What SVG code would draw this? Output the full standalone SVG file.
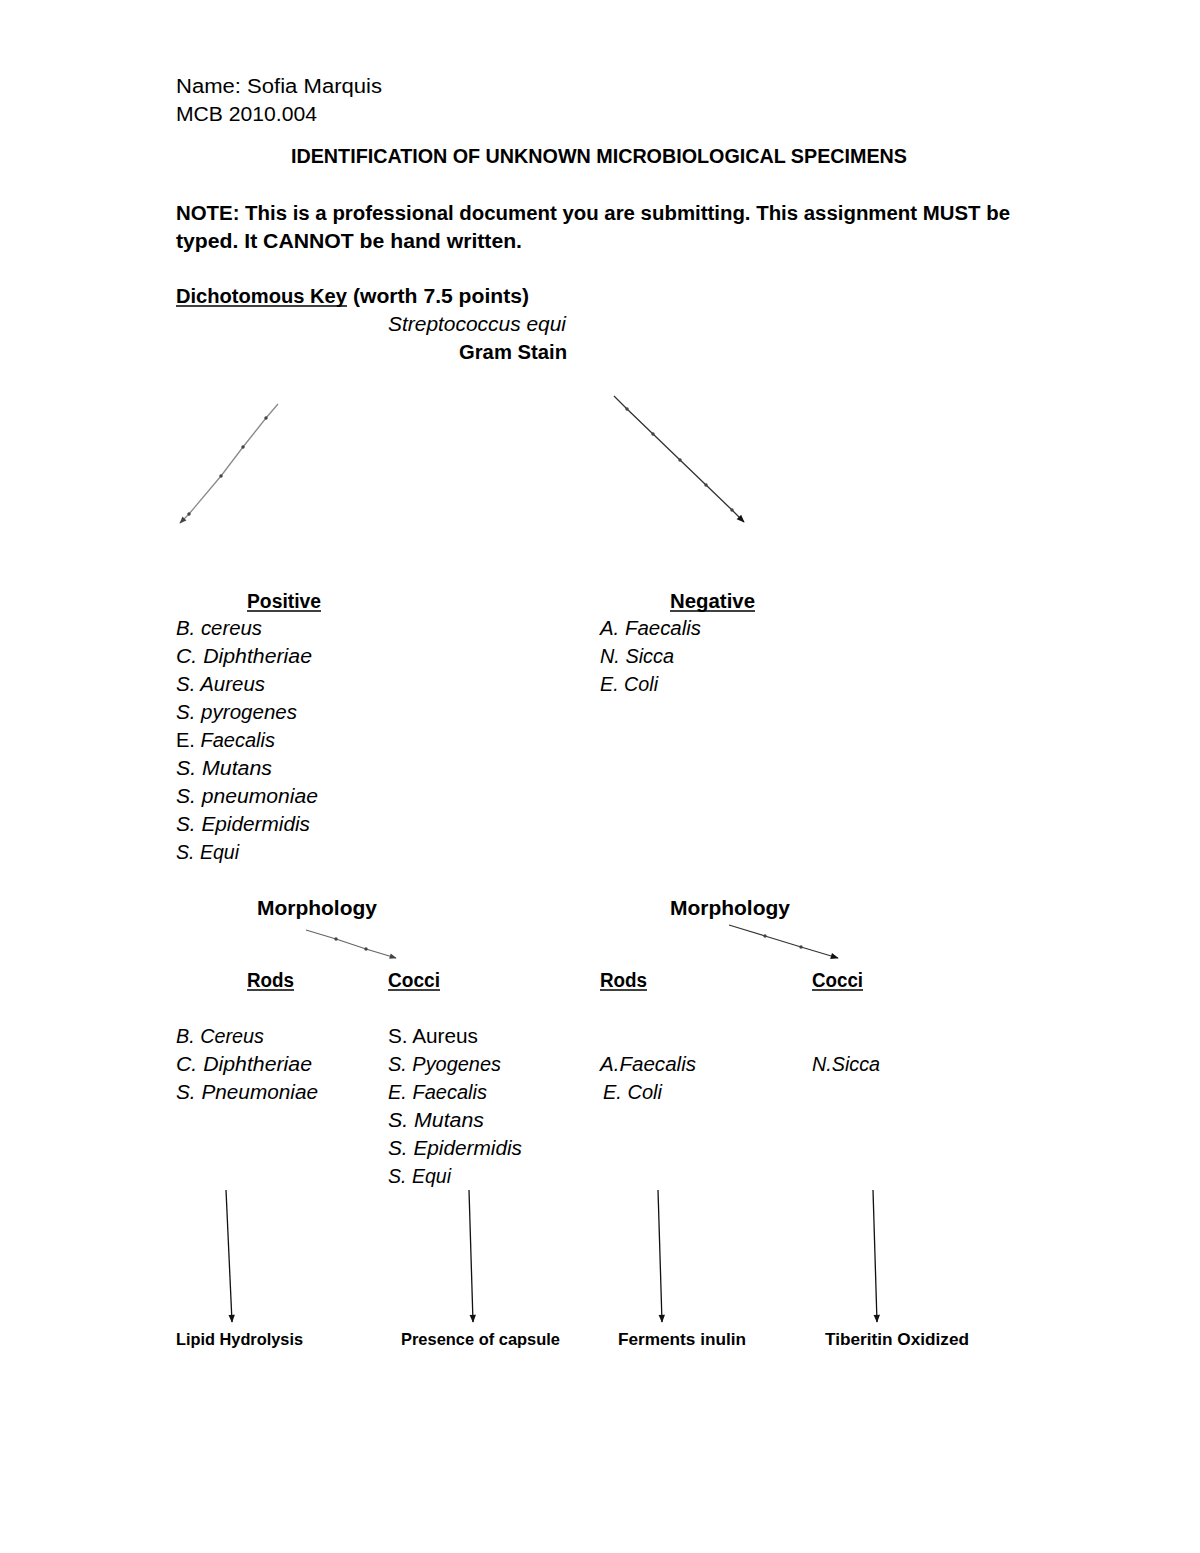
<svg xmlns="http://www.w3.org/2000/svg" width="1200" height="1553" viewBox="0 0 1200 1553">
<style>
text{font-family:"Liberation Sans",Arial,sans-serif;font-size:20px;fill:#000}
.b{font-weight:bold}
.i{font-style:italic}
.sm{font-size:17px;font-weight:bold}
.ul{stroke:#000;stroke-width:1.5}
.conn{fill:none;stroke-width:1.3}
</style>
<defs>
<marker id="ah" viewBox="0 0 10 10" refX="9" refY="5" markerWidth="9" markerHeight="8" orient="auto" markerUnits="userSpaceOnUse"><path d="M0,1 L10,5 L0,9 Z" fill="#111"/></marker>
<marker id="ahg" viewBox="0 0 10 10" refX="9" refY="5" markerWidth="8" markerHeight="7" orient="auto" markerUnits="userSpaceOnUse"><path d="M0,1 L10,5 L0,9 Z" fill="#444"/></marker>
<marker id="dot" viewBox="0 0 4 4" refX="2" refY="2" markerWidth="4" markerHeight="4" markerUnits="userSpaceOnUse"><circle cx="2" cy="2" r="1.7" fill="#444"/></marker>
</defs>
<rect width="1200" height="1553" fill="#fff"/>

<g id="header">
<text x="176" y="93" textLength="206" lengthAdjust="spacingAndGlyphs">Name:  Sofia Marquis</text>
<text x="176" y="121" textLength="141" lengthAdjust="spacingAndGlyphs">MCB 2010.004</text>
<text class="b" x="291" y="163" textLength="616" lengthAdjust="spacingAndGlyphs">IDENTIFICATION OF UNKNOWN MICROBIOLOGICAL SPECIMENS</text>
<text class="b" x="176" y="220" textLength="834" lengthAdjust="spacingAndGlyphs">NOTE:  This is a professional document you are submitting.  This assignment MUST be</text>
<text class="b" x="176" y="248" textLength="346" lengthAdjust="spacingAndGlyphs">typed.  It CANNOT be hand written.</text>
<text class="b" x="176" y="303" textLength="171" lengthAdjust="spacingAndGlyphs">Dichotomous Key</text>
<line class="ul" x1="176" y1="306" x2="347" y2="306"/>
<text class="b" x="353" y="303" textLength="176" lengthAdjust="spacingAndGlyphs">(worth 7.5 points)</text>
</g>

<g id="root">
<text class="i" x="388" y="331" textLength="178" lengthAdjust="spacingAndGlyphs">Streptococcus equi</text>
<text class="b" x="459" y="359" textLength="108" lengthAdjust="spacingAndGlyphs">Gram Stain</text>
</g>

<g id="positive">
<text class="b" x="247" y="608" textLength="74" lengthAdjust="spacingAndGlyphs">Positive</text>
<line class="ul" x1="247" y1="611" x2="321" y2="611"/>
<text class="i" x="176" y="635" textLength="86" lengthAdjust="spacingAndGlyphs">B. cereus</text>
<text class="i" x="176" y="663" textLength="136" lengthAdjust="spacingAndGlyphs">C. Diphtheriae</text>
<text class="i" x="176" y="691" textLength="89" lengthAdjust="spacingAndGlyphs">S. Aureus</text>
<text class="i" x="176" y="719" textLength="121" lengthAdjust="spacingAndGlyphs">S. pyrogenes</text>
<text x="176" y="747" textLength="99" lengthAdjust="spacingAndGlyphs">E. <tspan class="i">Faecalis</tspan></text>
<text class="i" x="176" y="775" textLength="96" lengthAdjust="spacingAndGlyphs">S. Mutans</text>
<text class="i" x="176" y="803" textLength="142" lengthAdjust="spacingAndGlyphs">S. pneumoniae</text>
<text class="i" x="176" y="831" textLength="134" lengthAdjust="spacingAndGlyphs">S. Epidermidis</text>
<text class="i" x="176" y="859" textLength="63" lengthAdjust="spacingAndGlyphs">S. Equi</text>
</g>

<g id="negative">
<text class="b" x="670" y="608" textLength="85" lengthAdjust="spacingAndGlyphs">Negative</text>
<line class="ul" x1="670" y1="611" x2="755" y2="611"/>
<text class="i" x="600" y="635" textLength="101" lengthAdjust="spacingAndGlyphs">A. Faecalis</text>
<text class="i" x="600" y="663" textLength="74" lengthAdjust="spacingAndGlyphs">N. Sicca</text>
<text class="i" x="600" y="691" textLength="58" lengthAdjust="spacingAndGlyphs">E. Coli</text>
</g>

<g id="morph-left">
<text class="b" x="257" y="915" textLength="120" lengthAdjust="spacingAndGlyphs">Morphology</text>
</g>
<g id="morph-right">
<text class="b" x="670" y="915" textLength="120" lengthAdjust="spacingAndGlyphs">Morphology</text>
</g>

<g id="pos-rods">
<text class="b" x="247" y="987" textLength="47" lengthAdjust="spacingAndGlyphs">Rods</text>
<line class="ul" x1="247" y1="990" x2="294" y2="990"/>
<text class="i" x="176" y="1043" textLength="88" lengthAdjust="spacingAndGlyphs">B. Cereus</text>
<text class="i" x="176" y="1071" textLength="136" lengthAdjust="spacingAndGlyphs">C. Diphtheriae</text>
<text class="i" x="176" y="1099" textLength="142" lengthAdjust="spacingAndGlyphs">S. Pneumoniae</text>
</g>

<g id="pos-cocci">
<text class="b" x="388" y="987" textLength="52" lengthAdjust="spacingAndGlyphs">Cocci</text>
<line class="ul" x1="388" y1="990" x2="440" y2="990"/>
<text x="388" y="1043" textLength="90" lengthAdjust="spacingAndGlyphs">S. Aureus</text>
<text class="i" x="388" y="1071" textLength="113" lengthAdjust="spacingAndGlyphs">S. Pyogenes</text>
<text class="i" x="388" y="1099" textLength="99" lengthAdjust="spacingAndGlyphs">E. Faecalis</text>
<text class="i" x="388" y="1127" textLength="96" lengthAdjust="spacingAndGlyphs">S. Mutans</text>
<text class="i" x="388" y="1155" textLength="134" lengthAdjust="spacingAndGlyphs">S. Epidermidis</text>
<text class="i" x="388" y="1183" textLength="63" lengthAdjust="spacingAndGlyphs">S. Equi</text>
</g>

<g id="neg-rods">
<text class="b" x="600" y="987" textLength="47" lengthAdjust="spacingAndGlyphs">Rods</text>
<line class="ul" x1="600" y1="990" x2="647" y2="990"/>
<text class="i" x="600" y="1071" textLength="96" lengthAdjust="spacingAndGlyphs">A.Faecalis</text>
<text class="i" x="603" y="1099" textLength="59" lengthAdjust="spacingAndGlyphs">E. Coli</text>
</g>

<g id="neg-cocci">
<text class="b" x="812" y="987" textLength="51" lengthAdjust="spacingAndGlyphs">Cocci</text>
<line class="ul" x1="812" y1="990" x2="863" y2="990"/>
<text class="i" x="812" y="1071" textLength="68" lengthAdjust="spacingAndGlyphs">N.Sicca</text>
</g>

<g id="tests">
<text class="sm" x="176" y="1345" textLength="127" lengthAdjust="spacingAndGlyphs">Lipid Hydrolysis</text>
<text class="sm" x="401" y="1345" textLength="159" lengthAdjust="spacingAndGlyphs">Presence of capsule</text>
<text class="sm" x="618" y="1345" textLength="128" lengthAdjust="spacingAndGlyphs">Ferments inulin</text>
<text class="sm" x="825" y="1345" textLength="144" lengthAdjust="spacingAndGlyphs">Tiberitin Oxidized</text>
</g>

<g id="connectors">
<polyline class="conn" stroke="#8a8a8a" stroke-width="1.6" points="278,404 266,418 243,447 221,476 189,514 180,523" marker-mid="url(#dot)" marker-end="url(#ahg)"/>
<polyline class="conn" stroke="#333" stroke-width="2" points="614,396 627,409 653,434 680,460 706,485 732,510 744,522" marker-mid="url(#dot)" marker-end="url(#ah)"/>
<polyline class="conn" stroke="#666" stroke-width="1.4" points="306,930 336,939 366,949 396,958" marker-mid="url(#dot)" marker-end="url(#ahg)"/>
<polyline class="conn" stroke="#333" stroke-width="1.8" points="729,925 765,936 801,947 838,958" marker-mid="url(#dot)" marker-end="url(#ah)"/>
<line class="conn" stroke="#111" stroke-width="1.5" x1="226" y1="1190" x2="232" y2="1322" marker-end="url(#ah)"/>
<line class="conn" stroke="#111" stroke-width="1.5" x1="469" y1="1190" x2="473" y2="1322" marker-end="url(#ah)"/>
<line class="conn" stroke="#111" stroke-width="1.5" x1="658" y1="1190" x2="662" y2="1322" marker-end="url(#ah)"/>
<line class="conn" stroke="#111" stroke-width="1.5" x1="873" y1="1190" x2="877" y2="1322" marker-end="url(#ah)"/>
</g>
</svg>
